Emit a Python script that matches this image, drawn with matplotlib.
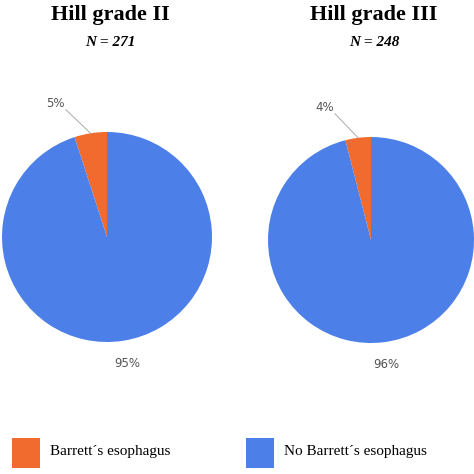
import matplotlib
matplotlib.use("Agg")
import matplotlib.pyplot as plt
import numpy as np

titles = ["Hill grade II", "Hill grade III"]
ns = ["N = 271", "N = 248"]
categories = ["Barrett´s esophagus", "No Barrett´s esophagus"]
values = [[5, 95], [4, 96]]
colors = ["#f26b2e", "#4c80e8"]

fig = plt.figure(figsize=(4.74, 4.74), dpi=100)
ax = fig.add_axes([0, 0, 1, 1])
ax.set_xlim(0, 474); ax.set_ylim(0, 474); ax.set_aspect("equal"); ax.axis("off")

centers = [(107, 474 - 237), (371, 474 - 240)]
radii = [105, 103]
for i in range(2):
    cx, cy = centers[i]; r = radii[i]
    wedges, _ = ax.pie(values[i], colors=colors, startangle=90, counterclock=True,
                       center=(cx, cy), radius=r, frame=True,
                       wedgeprops=dict(linewidth=0))
    for j, w in enumerate(wedges):
        ang = np.deg2rad((w.theta1 + w.theta2) / 2)
        d = 1.36 if j == 0 else 1.22
        if j == 0:
            ang = ang + np.deg2rad(12)
        tx, ty = cx + d * r * np.cos(ang), cy + d * r * np.sin(ang)
        ax.text(tx, ty, f"{values[i][j]}%", ha="center", va="center",
                fontsize=8.5, color="#555555")
        if j == 0:
            a0 = np.deg2rad((w.theta1 + w.theta2) / 2)
            ax.plot([cx + r * np.cos(a0), tx + 10], [cy + r * np.sin(a0), ty - 6],
                    color="#aaaaaa", lw=0.7)
    ax.text(cx + 3, 474 - 15, titles[i], ha="center", va="center",
            fontsize=16, fontweight="bold", family="Liberation Serif")
    ax.text(cx + 3, 474 - 42, ns[i], ha="center", va="center", style="italic",
            fontweight="bold", fontsize=11, family="Liberation Serif")

ax.set_xlim(0, 474); ax.set_ylim(0, 474); ax.axis("off")
for k, (x0, tx) in enumerate([(12, 50), (246, 284)]):
    ax.add_patch(plt.Rectangle((x0, 474 - 468), 28, 30, color=colors[k], lw=0))
    ax.text(tx, 474 - 452, categories[k], ha="left", va="center",
            fontsize=11, family="Liberation Serif")

fig.savefig("out.png", dpi=100)
